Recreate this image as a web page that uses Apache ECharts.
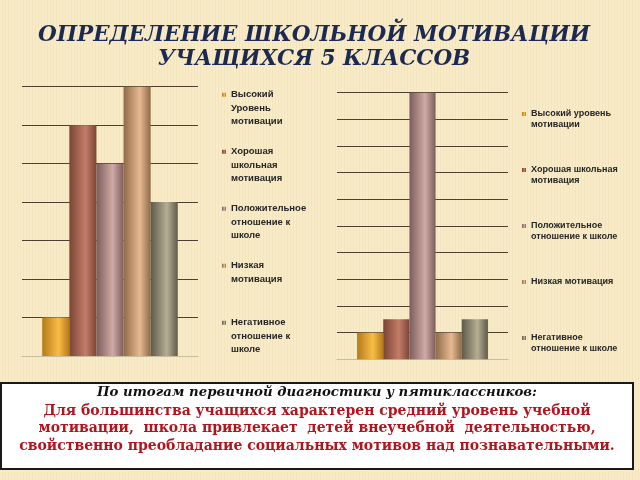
<!DOCTYPE html>
<html lang="ru">
<head>
    <meta charset="UTF-8">
    <title>Школьная мотивация</title>
    <script src="https://cdn.jsdelivr.net/npm/echarts@6/dist/echarts.min.js"></script>
    <style>
        *{
            margin: 0;
            padding: 0;
        }
        body{
            background: repeating-linear-gradient(90deg, #f8ebc7 0 2px, #f4e4bd 2px 3px);
        }
        #box{
            width: 640px;
            height: 480px;
        }
    </style>
</head>
<body>
<div id="box"></div>
<script type="text/javascript">
    // подписи и значения
    let titleText = 'ОПРЕДЕЛЕНИЕ ШКОЛЬНОЙ МОТИВАЦИИ\nУЧАЩИХСЯ 5 КЛАССОВ';
    let leftNames = ['Высокий\nУровень\nмотивации', 'Хорошая\nшкольная\nмотивация', 'Положительное\nотношение к\nшколе', 'Низкая\nмотивация', 'Негативное\nотношение к\nшколе'];
    let leftValues = [1, 6, 5, 7, 4];
    let rightNames = ['Высокий уровень\nмотивации', 'Хорошая школьная\nмотивация', 'Положительное\nотношение к школе', 'Низкая мотивация', 'Негативное\nотношение к школе'];
    let rightValues = [1, 1.5, 10, 1, 1.5];
    let boxHead = 'По итогам первичной диагностики у пятиклассников:';
    let boxLines = [
        'Для большинства учащихся характерен средний уровень учебной',
        'мотивации,  школа привлекает  детей внеучебной  деятельностью,',
        'свойственно преобладание социальных мотивов над познавательными.'
    ];

    // цвета цилиндров: тёмный край, светлая середина
    let colors = [
        ['#b37a1a', '#f9bd45'],
        ['#7a4535', '#c47c69'],
        ['#7c5d5c', '#d0aaa6'],
        ['#8e6a48', '#e7ba92'],
        ['#5f5949', '#b6ae93']
    ];

    function barColor(c){
        return new echarts.graphic.LinearGradient(0, 0, 1, 0, [
            {offset: 0, color: c[0]},
            {offset: 0.6, color: c[1]},
            {offset: 1, color: c[0]}
        ]);
    }

    // пустые строки сверху, чтобы значок стоял у первой строки
    function padName(name, n){
        let lines = name.split('\n');
        let out = [];
        for (let i = 0; i < n - 1; i++) out.push(' ');
        out = out.concat(lines);
        for (let i = lines.length; i < n; i++) out.push(' ');
        return out.join('\n');
    }

    let series = [];
    leftNames.forEach((name, i) => {
        series.push({
            name: name,
            type: 'bar',
            xAxisIndex: 0,
            yAxisIndex: 0,
            data: [leftValues[i]],
            barGap: '0%',
            barCategoryGap: '23%',
            itemStyle: {color: barColor(colors[i])}
        });
    });
    rightNames.forEach((name, i) => {
        series.push({
            name: name,
            type: 'bar',
            xAxisIndex: 1,
            yAxisIndex: 1,
            data: [rightValues[i]],
            barGap: '0%',
            barCategoryGap: '23.5%',
            itemStyle: {color: barColor(colors[i])}
        });
    });

    let splitLine = {show: true, lineStyle: {color: '#4e4030', width: 1}};
    let xAxisBase = {
        type: 'category',
        data: [''],
        axisTick: {show: false},
        axisLabel: {show: false},
        axisLine: {lineStyle: {color: '#c9bd9f', width: 1}}
    };

    let myChart = echarts.init(document.getElementById('box'));
    let option = {
        animation: false,
        title: {
            text: titleText,
            left: 314,
            top: 23,
            padding: 0,
            textAlign: 'center',
            textStyle: {
                fontFamily: 'DejaVu Serif',
                fontStyle: 'italic',
                fontWeight: 'bold',
                fontSize: 21.5,
                lineHeight: 24,
                color: '#1c2951'
            }
        },
        legend: [{
            data: leftNames,
            orient: 'vertical',
            left: 222,
            top: 61,
            padding: 0,
            itemGap: -10.5,
            itemWidth: 4,
            itemHeight: 4,
            icon: 'rect',
            selectedMode: false,
            formatter: name => padName(name, 3),
            textStyle: {fontFamily: 'Liberation Sans', fontSize: 9.5, fontWeight: 'bold', lineHeight: 13.5, color: '#262626'}
        }, {
            data: rightNames,
            orient: 'vertical',
            left: 522,
            top: 97.5,
            padding: 0,
            itemGap: 23,
            itemWidth: 4,
            itemHeight: 4,
            icon: 'rect',
            selectedMode: false,
            formatter: name => padName(name, 2),
            textStyle: {fontFamily: 'Liberation Sans', fontSize: 9, fontWeight: 'bold', lineHeight: 11, color: '#262626'}
        }],
        grid: [
            {left: 22, right: 442, top: 86.7, bottom: 124},
            {left: 337, right: 132, top: 92.7, bottom: 120.7}
        ],
        xAxis: [
            Object.assign({gridIndex: 0}, xAxisBase),
            Object.assign({gridIndex: 1}, xAxisBase)
        ],
        yAxis: [
            {gridIndex: 0, type: 'value', min: 0, max: 7, interval: 1, axisLabel: {show: false}, axisLine: {show: false}, axisTick: {show: false}, splitLine},
            {gridIndex: 1, type: 'value', min: 0, max: 10, interval: 1, axisLabel: {show: false}, axisLine: {show: false}, axisTick: {show: false}, splitLine}
        ],
        graphic: [{
            type: 'rect',
            shape: {x: 1, y: 383, width: 632, height: 86},
            style: {fill: '#ffffff', stroke: '#1a1a1a', lineWidth: 2}
        }, {
            type: 'text',
            x: 317, y: 393,
            style: {text: boxHead, align: 'center', verticalAlign: 'middle', fontFamily: 'DejaVu Serif', fontStyle: 'italic', fontWeight: 'bold', fontSize: 13.3, fill: '#111'}
        }].concat(boxLines.map((t, i) => ({
            type: 'text',
            x: 317, y: 411 + i * 17.6,
            style: {text: t, align: 'center', verticalAlign: 'middle', fontFamily: 'DejaVu Serif', fontWeight: 'bold', fontSize: 14, fill: '#b1151d'}
        }))),
        series
    };
    myChart.setOption(option);
</script>
</body>
</html>
